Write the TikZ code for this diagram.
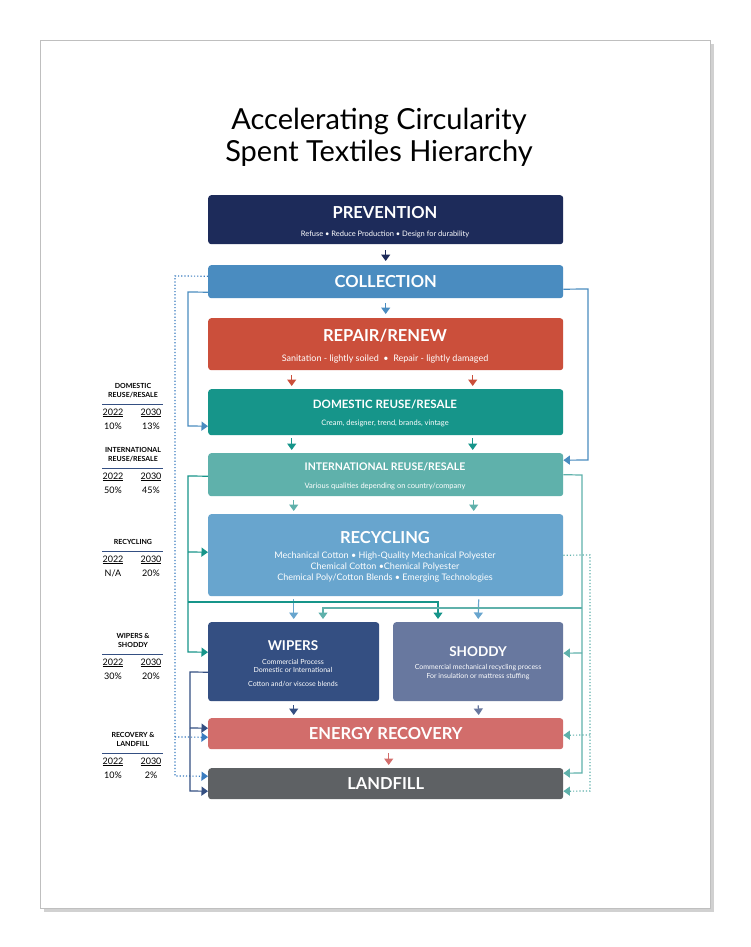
\documentclass[tikz,border=0pt]{standalone}
\usepackage{fontspec}
\setmainfont{Lato}
\usetikzlibrary{arrows.meta}
\definecolor{cprev}{HTML}{1D2B5A}
\definecolor{ccol}{HTML}{4A8CC0}
\definecolor{crep}{HTML}{CB4F3B}
\definecolor{cdom}{HTML}{16958A}
\definecolor{cint}{HTML}{5FB1AB}
\definecolor{crec}{HTML}{68A5CE}
\definecolor{cwip}{HTML}{344F82}
\definecolor{csho}{HTML}{68789F}
\definecolor{cene}{HTML}{D26D6B}
\definecolor{clan}{HTML}{5E6164}
\definecolor{cdotb}{HTML}{3A7CC0}
\tikzset{
 box/.style={rounded corners=3pt,anchor=north west,text=white,align=center,inner sep=0pt},
 conn/.style={line width=1.2pt,-{Triangle[width=9pt,length=6.5pt]}},
 dconn/.style={conn,dotted},
 stathead/.style={font=\bfseries\fontsize{7}{8.5}\selectfont,align=center,text=black},
 statnum/.style={font=\fontsize{9}{10}\selectfont,text=black},
}
\newcommand{\statblock}[5]{%
 \node[stathead,anchor=south] (#5h) at (133,#1) {#2};
 \draw[cwip,line width=0.8pt] (102,#1+3) -- (163,#1+3);
 \node[statnum,anchor=base] (#5a) at (113,#1+14) {\underline{2022}};
 \node[statnum,anchor=base] (#5b) at (151,#1+14) {\underline{2030}};
 \node[statnum,anchor=base] (#5c) at (113,#1+28) {#3};
 \node[statnum,anchor=base] (#5d) at (151,#1+28) {#4};
}
\begin{document}
\begin{tikzpicture}[x=1pt,y=-1pt]
\useasboundingbox (0,0) rectangle (750,947);
\fill[black!18] (44,44) rectangle (714,912);
\fill[white,draw=black!25] (40,40) rectangle (710,908);
\node[font=\fontsize{29}{32}\selectfont,align=center] (title) at (379,137) {Accelerating Circularity\\Spent Textiles Hierarchy};

\node[box,fill=cprev,minimum width=355pt,minimum height=49pt] (prev) at (208,195) {};
\node[text=white,font=\bfseries\fontsize{16.5}{18}\selectfont] (prevt) at (385,213) {PREVENTION};
\node[text=white,font=\fontsize{7.5}{8}\selectfont] (prevs) at (385,234) {Refuse • Reduce Production • Design for durability};

\node[box,fill=ccol,minimum width=355pt,minimum height=33pt,font=\bfseries\fontsize{16.5}{18}\selectfont] (col) at (208,265) {COLLECTION};

\node[box,fill=crep,minimum width=355pt,minimum height=52pt] (rep) at (208,318) {};
\node[text=white,font=\bfseries\fontsize{16.5}{18}\selectfont] (rept) at (385,336) {REPAIR/RENEW};
\node[text=white,font=\fontsize{9}{10}\selectfont] (reps) at (385,359) {Sanitation - lightly soiled \ \textbullet\ \ Repair - lightly damaged};

\node[box,fill=cdom,minimum width=355pt,minimum height=46pt] (dom) at (208,389) {};
\node[text=white,font=\bfseries\fontsize{11.5}{12}\selectfont] (domt) at (385,404) {DOMESTIC REUSE/RESALE};
\node[text=white,font=\fontsize{7.5}{8}\selectfont] (doms) at (385,423) {Cream, designer, trend, brands, vintage};

\node[box,fill=cint,minimum width=355pt,minimum height=43pt] (int) at (208,453) {};
\node[text=white,font=\bfseries\fontsize{10.5}{11}\selectfont] (intt) at (385,467) {INTERNATIONAL REUSE/RESALE};
\node[text=white,font=\fontsize{7.5}{8}\selectfont] (ints) at (385,486) {Various qualities depending on country/company};

\node[box,fill=crec,minimum width=355pt,minimum height=82pt] (rec) at (208,514) {};
\node[text=white,font=\bfseries\fontsize{16.5}{18}\selectfont] (rect) at (385,538) {RECYCLING};
\node[text=white,font=\fontsize{9}{11}\selectfont,align=center] (recs) at (385,567) {Mechanical Cotton • High-Quality Mechanical Polyester\\Chemical Cotton •Chemical Polyester\\Chemical Poly/Cotton Blends • Emerging Technologies};

\node[box,fill=cwip,minimum width=171pt,minimum height=79pt] (wip) at (208,622) {};
\node[text=white,font=\bfseries\fontsize{13.5}{14}\selectfont] (wipt) at (293,646) {WIPERS};
\node[text=white,font=\fontsize{7}{8.5}\selectfont,align=center] (wips) at (293,666) {Commercial Process\\Domestic or International};
\node[text=white,font=\fontsize{7}{8}\selectfont] (wipu) at (293,684) {Cotton and/or viscose blends};

\node[box,fill=csho,minimum width=170pt,minimum height=79pt] (sho) at (393,622) {};
\node[text=white,font=\bfseries\fontsize{13.5}{14}\selectfont] (shot) at (478,652) {SHODDY};
\node[text=white,font=\fontsize{7}{8.5}\selectfont,align=center] (shos) at (478,672) {Commercial mechanical recycling process\\For insulation or mattress stuffing};

\node[box,fill=cene,minimum width=355pt,minimum height=31pt,font=\bfseries\fontsize{16.5}{18}\selectfont] (ene) at (208,718) {ENERGY RECOVERY};
\node[box,fill=clan,minimum width=355pt,minimum height=31pt,font=\bfseries\fontsize{16.5}{18}\selectfont] (lan) at (208,768) {LANDFILL};

% short vertical arrows
\draw[conn,cprev] ([yshift=-6pt]prev.south) -- ([yshift=4pt]col.north);
\draw[conn,ccol] ([yshift=-5pt]col.south) -- ([yshift=4pt]rep.north);
\draw[conn,crep] ([xshift=-94pt,yshift=-5pt]rep.south) -- ([xshift=-94pt,yshift=3pt]dom.north);
\draw[conn,crep] ([xshift=87pt,yshift=-5pt]rep.south) -- ([xshift=87pt,yshift=3pt]dom.north);
\draw[conn,cdom] ([xshift=-94pt,yshift=-3pt]dom.south) -- ([xshift=-94pt,yshift=3pt]int.north);
\draw[conn,cdom] ([xshift=87pt,yshift=-3pt]dom.south) -- ([xshift=87pt,yshift=3pt]int.north);
\draw[conn,cint] ([xshift=-92pt,yshift=-4pt]int.south) -- ([xshift=-92pt,yshift=3pt]rec.north);
\draw[conn,cint] ([xshift=88pt,yshift=-4pt]int.south) -- ([xshift=88pt,yshift=3pt]rec.north);
\draw[conn,crec] ([xshift=-92pt,yshift=-3pt]rec.south) -- ([yshift=3pt]wip.north);
\draw[conn,crec] ([xshift=93pt,yshift=-3pt]rec.south) -- ([yshift=3pt]sho.north);
\draw[conn,cwip] ([yshift=-4pt]wip.south) -- ([xshift=-92pt,yshift=3pt]ene.north);
\draw[conn,csho] ([yshift=-4pt]sho.south) -- ([xshift=93pt,yshift=3pt]ene.north);
\draw[conn,cene] ([xshift=3pt,yshift=-4pt]ene.south) -- ([xshift=3pt,yshift=3pt]lan.north);

% collection connectors
\draw[conn,ccol] ([yshift=-10.5pt]col.west) -- (188,292) -- (188,426) -- ([yshift=-14pt]dom.west);
\draw[conn,ccol] ([yshift=-7.5pt]col.east) -- (588,289) -- (588,460) -- ([yshift=14.5pt]int.east);
\draw[dconn,cdotb] ([yshift=5.5pt]col.west) -- (175,276) -- (175,776) -- ([yshift=7.5pt]lan.west);
\draw[dconn,cdotb] (175,737) -- ([yshift=-3.5pt]ene.west);

% international left (dark teal)
\draw[conn,cdom] ([yshift=-1.5pt]int.west) -- (188,476) -- (188,652) -- ([yshift=9.5pt]wip.west);
\draw[conn,cdom] (188,552) -- ([yshift=3pt]rec.west);
\draw[conn,cdom] (188,602) -- (438,602) -- ([xshift=45pt,yshift=3pt]sho.north west);
% international right (light teal)
\draw[conn,cint] (int.east) -- (582,475) -- (582,773) -- ([yshift=10.5pt]lan.east);
\draw[conn,cint] (582,653) -- ([yshift=8.5pt]sho.east);
\draw[conn,cint] (582,608) -- (323,608) -- ([xshift=115pt,yshift=3pt]wip.north west);
% recycling dotted
\draw[dconn,cint] (rec.east) -- (590,555) -- (590,791) -- ([yshift=-7.5pt]lan.east);
\draw[dconn,cint] (590,735) -- ([yshift=-1.5pt]ene.east);
% wipers
\draw[conn,cwip] ([yshift=-10.5pt]wip.west) -- (190,672) -- (190,791) -- ([yshift=-7.5pt]lan.west);
\draw[conn,cwip] (190,728) -- ([yshift=5.5pt]ene.west);

\statblock{401}{DOMESTIC\\REUSE/RESALE}{10\%}{13\%}{sa}
\statblock{465}{INTERNATIONAL\\REUSE/RESALE}{50\%}{45\%}{sb}
\statblock{548}{RECYCLING}{N/A}{20\%}{sc}
\statblock{651}{WIPERS \&\\SHODDY}{30\%}{20\%}{sd}
\statblock{750}{RECOVERY \&\\LANDFILL}{10\%}{2\%}{se}
\end{tikzpicture}
\end{document}
